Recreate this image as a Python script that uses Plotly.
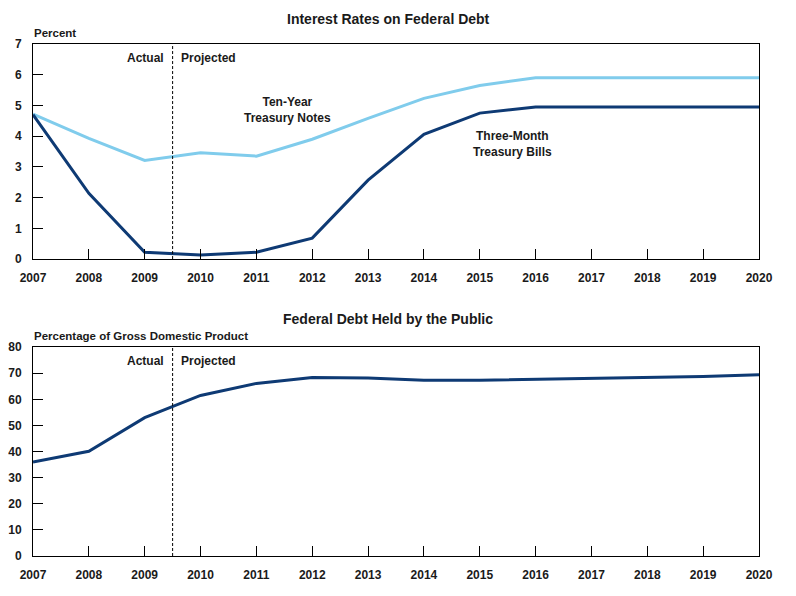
import plotly.graph_objects as go

years = list(range(2007, 2021))
ten_year = [4.72, 3.93, 3.21, 3.46, 3.35, 3.90, 4.58, 5.23, 5.65, 5.90, 5.90, 5.90, 5.90, 5.90]
three_month = [4.70, 2.14, 0.22, 0.13, 0.22, 0.68, 2.57, 4.06, 4.75, 4.95, 4.95, 4.95, 4.95, 4.95]
debt_gdp = [36.0, 40.1, 53.0, 61.5, 66.1, 68.4, 68.2, 67.3, 67.3, 67.7, 68.0, 68.3, 68.7, 69.4]

top_yticks = [0, 1, 2, 3, 4, 5, 6, 7]
bot_yticks = [0, 10, 20, 30, 40, 50, 60, 70, 80]
divider = 2009.5

LIGHT = "#80CCEC"
DARK = "#0E3A74"
TXT = "#1a1a1a"
FONT = "Liberation Sans"

fig = go.Figure()
fig.add_trace(go.Scatter(x=years, y=ten_year, mode="lines", line=dict(color=LIGHT, width=3),
                         xaxis="x", yaxis="y", showlegend=False, hoverinfo="skip"))
fig.add_trace(go.Scatter(x=years, y=three_month, mode="lines", line=dict(color=DARK, width=3),
                         xaxis="x", yaxis="y", showlegend=False, hoverinfo="skip"))
fig.add_trace(go.Scatter(x=years, y=debt_gdp, mode="lines", line=dict(color=DARK, width=3),
                         xaxis="x2", yaxis="y2", showlegend=False, hoverinfo="skip"))

axis_common = dict(showline=True, linecolor="black", linewidth=1, mirror=True,
                   ticks="inside", ticklen=10, tickcolor="black", tickwidth=1,
                   showgrid=False, zeroline=False, automargin=False,
                   tickfont=dict(family=FONT, size=12, color=TXT, weight="bold"))

xcommon = dict(axis_common, range=[2007, 2020], tickmode="array", tickvals=years,
               ticktext=[str(y) for y in years], ticklabelstandoff=8)

fig.update_layout(
    width=796, height=596,
    margin=dict(l=25, r=45, t=36, b=48),
    paper_bgcolor="white", plot_bgcolor="white",
    font=dict(family=FONT, color=TXT),
    xaxis=dict(xcommon, anchor="y"),
    yaxis=dict(axis_common, domain=[0.58, 1.0], range=[0, 7], tickvals=top_yticks, anchor="x",
               ticklabelstandoff=8),
    xaxis2=dict(xcommon, anchor="y2"),
    yaxis2=dict(axis_common, domain=[0.0, 0.408], range=[0, 80], tickvals=bot_yticks, anchor="x2",
                ticklabelstandoff=8),
)

# dashed dividers
for xa, ya in (("x", "y"), ("x2", "y2")):
    fig.add_shape(type="line", xref=xa, yref=f"{ya} domain", x0=divider, x1=divider, y0=0, y1=1,
                  line=dict(color="black", width=1, dash="3px,2px"))

B = "<b>%s</b>"
def ann(text, x, y, xref, yref, size=12, **kw):
    fig.add_annotation(text=B % text, x=x, y=y, xref=xref, yref=yref, showarrow=False,
                       font=dict(family=FONT, size=size, color=TXT), **kw)

ann("Interest Rates on Federal Debt", 0.5, 1, "paper", "paper", size=14,
    xanchor="center", yanchor="middle", xshift=-8, yshift=25)
ann("Federal Debt Held by the Public", 0.5, 0.408, "paper", "paper", size=14,
    xanchor="center", yanchor="middle", xshift=-8, yshift=28)
ann("Percent", 2007, 1, "x", "y domain", size=11.5, xanchor="left", yanchor="bottom",
    xshift=-1, yshift=3)
ann("Percentage of Gross Domestic Product", 2007, 1, "x2", "y2 domain", size=11.5,
    xanchor="left", yanchor="bottom", xshift=-1, yshift=3)
for xa, ya in (("x", "y"), ("x2", "y2")):
    ann("Actual", divider, 1, xa, f"{ya} domain", xanchor="right", yanchor="top",
        xshift=-7, yshift=-5)
    ann("Projected", divider, 1, xa, f"{ya} domain", xanchor="left", yanchor="top",
        xshift=6, yshift=-5)
ann("Ten-Year<br>Treasury Notes", 2011.55, 4.84, "x", "y", xanchor="center", yanchor="middle")
ann("Three-Month<br>Treasury Bills", 2015.59, 3.76, "x", "y", xanchor="center", yanchor="middle")

fig.write_html("out.html")
